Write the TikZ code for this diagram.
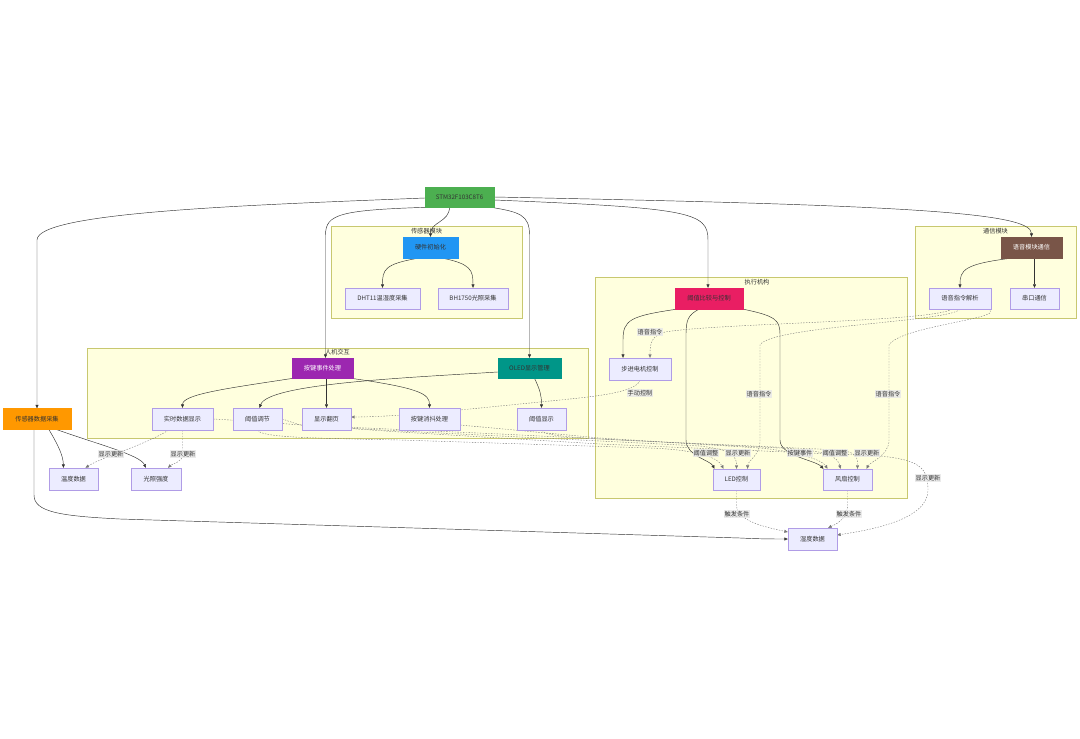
\documentclass[tikz,border=0pt]{standalone}
\usepackage{fontspec}
\setmainfont{Noto Sans CJK SC}
\usetikzlibrary{arrows.meta,calc}
\definecolor{edgec}{HTML}{333333}
\definecolor{dotc}{HTML}{777777}
\definecolor{nodefill}{HTML}{ECECFF}
\definecolor{nodedraw}{HTML}{B09CE6}
\definecolor{clfill}{HTML}{FFFFDE}
\definecolor{cldraw}{HTML}{C8C870}
\definecolor{labfill}{HTML}{E8E8E8}
\definecolor{cgreen}{HTML}{4CAF50}
\definecolor{cblue}{HTML}{2196F3}
\definecolor{cbrown}{HTML}{795548}
\definecolor{cpink}{HTML}{E91E63}
\definecolor{cpurple}{HTML}{9C27B0}
\definecolor{cteal}{HTML}{009688}
\definecolor{corange}{HTML}{FF9800}
\definecolor{txt}{HTML}{333333}
\pgfdeclarelayer{bg}
\pgfdeclarelayer{edges}
\pgfdeclarelayer{labels}
\pgfsetlayers{bg,edges,main,labels}
\tikzset{
  box/.style={draw=nodedraw, fill=nodefill, line width=0.35pt, inner sep=0pt,
    minimum height=21, font=\fontsize{6.2}{7}\selectfont, text=txt},
  sbox/.style={box, draw=#1, fill=#1},
  cluster/.style={draw=cldraw, fill=clfill, line width=0.35pt, inner sep=0pt},
  cllab/.style={font=\fontsize{6.2}{7}\selectfont, text=txt, anchor=north, inner sep=0pt},
  elab/.style={fill=labfill, fill opacity=0.85, text opacity=1, inner sep=1pt,
    font=\fontsize{6.2}{7}\selectfont, text=txt},
  arr/.style={draw=edgec, line width=0.45pt, -{Triangle[length=3.5pt,width=3pt]}},
  darr/.style={draw=dotc, line width=0.4pt, dash pattern=on 1.4pt off 1.4pt,
    -{Triangle[length=3.5pt,width=3pt]}},
}
\begin{document}
\begin{tikzpicture}[x=1pt,y=-1pt]
\useasboundingbox (0,0) rectangle (1080,739);
% clusters
\begin{pgfonlayer}{bg}
\node[cluster, minimum width=191, minimum height=92] (csens) at (426.5,272) {};
\node[cllab] (lcsens) at ($(csens.north)+(0,2)$) {传感器模块};
\node[cluster, minimum width=161, minimum height=92] (ccomm) at (995.5,272) {};
\node[cllab] (lccomm) at ($(ccomm.north)+(0,2)$) {通信模块};
\node[cluster, minimum width=312, minimum height=221] (cexec) at (751,387.5) {};
\node[cllab] (lcexec) at ($(cexec.north)+(6,2)$) {执行机构};
\node[cluster, minimum width=501, minimum height=90] (chmi) at (337.5,393) {};
\node[cllab] (lchmi) at ($(chmi.north)+(0,1)$) {人机交互};
\end{pgfonlayer}
% nodes
\node[sbox=cgreen, minimum width=69, minimum height=20] (stm) at (459.5,197) {STM32F103C8T6};
\node[sbox=cblue, minimum width=55] (hw) at (430.5,247.5) {硬件初始化};
\node[box, minimum width=75] (dht) at (382.5,298.5) {DHT11温湿度采集};
\node[box, minimum width=70] (bh) at (473,298.5) {BH1750光照采集};
\node[sbox=cbrown, minimum width=61, text=white] (voice) at (1031.5,247.5) {语音模块通信};
\node[box, minimum width=62] (parse) at (960,298.5) {语音指令解析};
\node[box, minimum width=49] (serial) at (1034.5,298.5) {串口通信};
\node[sbox=cpink, minimum width=68] (thr) at (709,298.5) {阈值比较与控制};
\node[box, minimum width=62, minimum height=22] (stepper) at (640,369) {步进电机控制};
\node[box, minimum width=47] (led) at (736.5,479.5) {LED控制};
\node[box, minimum width=49] (fan) at (847.5,479.5) {风扇控制};
\node[sbox=cpurple, minimum width=61, minimum height=20, text=white] (key) at (322.5,368) {按键事件处理};
\node[sbox=cteal, minimum width=63, minimum height=20] (oled) at (529.5,368) {OLED显示管理};
\node[box, minimum width=61, minimum height=22] (rt) at (182.5,419) {实时数据显示};
\node[box, minimum width=49, minimum height=22] (adj) at (257.5,419) {阈值调节};
\node[box, minimum width=49, minimum height=22] (flip) at (326.5,419) {显示翻页};
\node[box, minimum width=61, minimum height=22] (deb) at (429.5,419) {按键消抖处理};
\node[box, minimum width=49, minimum height=22] (tdisp) at (541.5,419) {阈值显示};
\node[sbox=corange, minimum width=68] (sens) at (37,419) {传感器数据采集};
\node[box, minimum width=49, minimum height=22] (temp) at (73.5,479) {温度数据};
\node[box, minimum width=50, minimum height=22] (light) at (156,479) {光照强度};
\node[box, minimum width=49, minimum height=22] (hum) at (812.5,539) {湿度数据};
% edges
\begin{pgfonlayer}{edges}
\draw[arr] ($(stm.west)+(0,1)$) .. controls (250,205) and (37,212) .. (37,240) -- (sens.north);
\draw[arr] ($(stm.south)+(-10,0)$) .. controls (449.5,222) and (430.5,222) .. (hw.north);
\draw[arr] ($(stm.south west)+(5,0)$) .. controls (340,210) and (325.5,214) .. (325.5,235) -- ($(key.north)+(3,0)$);
\draw[arr] ($(stm.south east)+(-4,0)$) .. controls (520,212) and (529.5,215) .. (529.5,235) -- (oled.north);
\draw[arr] ($(stm.east)+(0,3)$) .. controls (690,208) and (708,212) .. (708,240) -- ($(thr.north)+(-1,0)$);
\draw[arr] (stm.east) .. controls (900,205) and (1031.5,212) .. (voice.north);
\draw[arr] ($(hw.south)+(-12,0)$) .. controls (384,264) and (382.5,270) .. (dht.north);
\draw[arr] ($(hw.south)+(12,0)$) .. controls (471,264) and (473,270) .. (bh.north);
\draw[arr] ($(voice.south)+(-20,0)$) .. controls (964,264) and (960,270) .. (parse.north);
\draw[arr] ($(voice.south)+(3,0)$) -- (serial.north);
% voice commands
\draw[darr] ($(parse.south)+(-8,0)$) .. controls (930,322) and (720,323) .. (665,332) .. controls (652,336) and (650,342) .. ($(stepper.north)+(10,0)$);
\draw[darr] (parse.south) .. controls (950,322) and (770,326) .. (760,345) -- (760,440) .. controls (760,456) and (748,460) .. ($(led.north)+(11,0)$);
\draw[darr] ($(parse.south east)+(-3,0)$) .. controls (1010,318) and (900,326) .. (889,345) -- (889,440) .. controls (889,456) and (870,462) .. ($(fan.north)+(19,0)$);
% threshold control
\draw[arr] ($(thr.south west)+(2,0)$) .. controls (630,316) and (623,320) .. (623,340) -- ($(stepper.north)+(-17,0)$);
\draw[arr] ($(thr.south)+(-10,0)$) .. controls (688,315) and (686,320) .. (686,335) -- (686,440) .. controls (686,456) and (710,460) .. ($(led.north)+(-22,0)$);
\draw[arr] (thr.south east) .. controls (776,316) and (780,320) .. (780,335) -- (780,440) .. controls (780,456) and (815,460) .. ($(fan.north)+(-24,0)$);
\draw[darr] (stepper.south) .. controls (636,392) and (600,396) .. (560,400) -- (460,410) .. controls (420,414) and (380,417) .. ($(flip.east)+(0,-2)$);
% HMI
\draw[arr] ($(key.south west)+(2,0)$) .. controls (230,388) and (182.5,394) .. (rt.north);
\draw[arr] ($(oled.west)+(0,4)$) .. controls (400,378) and (268,384) .. ($(adj.north)+(2,0)$);
\draw[arr] ($(key.south)+(4,0)$) -- (flip.north);
\draw[arr] ($(key.south east)+(-3,0)$) .. controls (420,388) and (429.5,394) .. (deb.north);
\draw[arr] ($(oled.south)+(5,0)$) .. controls (540,390) and (541.5,395) .. (tdisp.north);
% sensor data
\draw[darr] ($(rt.south)+(-14,0)$) .. controls (145,445) and (100,458) .. ($(temp.north)+(12,0)$);
\draw[darr] (rt.south) -- (182.5,455) .. controls (182.5,462) and (172,464) .. ($(light.north)+(12,0)$);
\draw[arr] ($(sens.south)+(12,0)$) .. controls (58,445) and (63,455) .. ($(temp.north)+(-10,0)$);
\draw[arr] ($(sens.south)+(20,0)$) .. controls (100,445) and (140,455) .. ($(light.north)+(-10,0)$);
\draw[arr] ($(sens.south)+(-3,0)$) -- (34,495) .. controls (34,512) and (60,516) .. (120,519) -- (740,538) .. controls (760,539) and (775,539) .. (hum.west);
\draw[darr] (led.south) -- (736.5,505) .. controls (736.5,522) and (770,528) .. ($(hum.west)+(0,-7)$);
\draw[darr] (fan.south) -- (847.5,505) .. controls (847.5,520) and (834,525) .. ($(hum.north east)+(-9,0)$);
\draw[darr] (rt.east) .. controls (250,421) and (300,425) .. (400,432) -- (600,444) -- (880,456) .. controls (920,460) and (928,468) .. (928,490) .. controls (928,520) and (870,530) .. ($(hum.east)+(0,-4)$);
\draw[darr] (adj.south) .. controls (262,437) and (300,438) .. (400,440) -- (650,448) .. controls (700,450) and (718,458) .. ($(led.north)+(-13,0)$);
\draw[darr] (adj.east) -- (300,425) -- (500,434) -- (780,448) .. controls (830,450) and (838,458) .. ($(fan.north)+(-7,0)$);
\draw[darr] ($(flip.south east)+(0,-2)$) .. controls (380,430) and (400,431) .. (500,436) -- (700,446) .. controls (735,450) and (736.5,458) .. (led.north);
\draw[darr] ($(deb.east)+(0,6)$) -- (600,438) -- (760,448) .. controls (800,452) and (822,460) .. ($(fan.north)+(-20,0)$);
\draw[darr] (tdisp.south) .. controls (545,435) and (560,437) .. (620,440) -- (840,450) .. controls (860,453) and (857.5,460) .. ($(fan.north)+(10,0)$);
\end{pgfonlayer}
% edge labels
\begin{pgfonlayer}{labels}
\node[elab] (e1) at (650,332) {语音指令};
\node[elab] (e2) at (640,393) {手动控制};
\node[elab] (e3) at (759,394) {语音指令};
\node[elab] (e4) at (888,394) {语音指令};
\node[elab] (e5) at (706,453) {阈值调整};
\node[elab] (e6) at (738,453) {显示更新};
\node[elab] (e7) at (800,453) {按键事件};
\node[elab] (e8) at (835,453) {阈值调整};
\node[elab] (e9) at (867,453) {显示更新};
\node[elab] (e10) at (928,478) {显示更新};
\node[elab] (e11) at (737,514) {触发条件};
\node[elab] (e12) at (849,514) {触发条件};
\node[elab] (e13) at (111,454) {显示更新};
\node[elab] (e14) at (183,454) {显示更新};
\end{pgfonlayer}
\end{tikzpicture}
\end{document}
